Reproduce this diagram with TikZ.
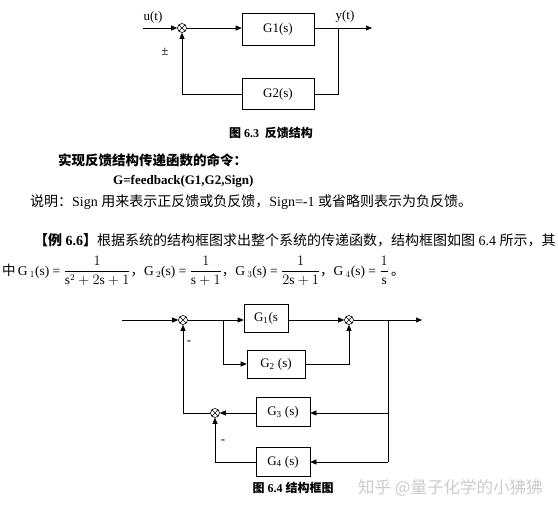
\documentclass[tikz,border=0pt]{standalone}
\usepackage{fontspec}
\usepackage{amsmath}
\setmainfont{Liberation Serif}
\newfontfamily\cjk{Noto Sans CJK SC}
\usetikzlibrary{arrows.meta,calc}
\begin{document}
\begin{tikzpicture}[x=1pt,y=-1pt,
  line/.style={line width=0.6pt},
  arr/.style={line width=0.6pt,-{Triangle[length=6pt,width=5pt]}},
  sumj/.style={circle,draw,line width=0.6pt,minimum size=9pt,inner sep=0pt,
    path picture={\draw[line width=0.6pt] (path picture bounding box.north west)--(path picture bounding box.south east)
      (path picture bounding box.north east)--(path picture bounding box.south west);}},
  blk/.style={draw,line width=0.6pt,inner sep=0pt,font=\fontsize{13}{15}\selectfont},
  lbl/.style={inner sep=0pt,font=\fontsize{13}{15}\selectfont},
  txt/.style={inner sep=0pt,anchor=west,font=\fontsize{14}{16}\selectfont},
  captxt/.style={inner sep=0pt,font=\fontsize{12}{14}\selectfont\bfseries}]
\useasboundingbox[fill=white] (0,0) rectangle (558,512);
% ---------- figure 6.3 ----------
\node[sumj] (sA) at (182,28) {};
\node[blk,minimum width=72pt,minimum height=32pt] (G1) at (278,29) {G1(s)\hspace{16pt}};
\node[blk,minimum width=72pt,minimum height=31pt] (G2) at (278,94) {G2(s)\hspace{20pt}};
\coordinate (inA) at (143,28);
\coordinate (outA) at (372,28);
\coordinate (brA) at (338,28);
\draw[arr] (inA) -- (sA.west);
\draw[arr] (sA.east) -- (sA.east -| G1.west);
\draw[arr] (G1.east |- sA) -- (outA);
\draw[line] (brA) |- (G2.east);
\draw[arr] (G2.west) -| (sA.south);
\node[lbl] (u) at (153,17) {u(t)};
\node[lbl] (y) at (345,16) {y(t)};
\node[lbl] (pm) at (165,52) {±};
\node[captxt] (cap1) at (271,133) {{\cjk 图} 6.3\ \ {\cjk 反馈结构}};
% ---------- text ----------
\node[txt,font=\fontsize{13.5}{16}\selectfont\bfseries] (ttl) at (58,160) {\cjk 实现反馈结构传递函数的命令：};
\node[txt,font=\fontsize{13}{16}\selectfont\bfseries] (cmd) at (113,181) {G=feedback(G1,G2,Sign)};
\node[txt] (note) at (30,202) {{\cjk 说明：}Sign {\cjk 用来表示正反馈或负反馈，}Sign=-1 {\cjk 或省略则表示为负反馈。}};
\node[txt] (ex1) at (34,240) {{\bfseries\cjk 【例}\textbf{ 6.6}{\bfseries\cjk 】}{\cjk 根据系统的结构框图求出整个系统的传递函数，结构框图如图} 6.4 {\cjk 所示，其}};
\node[txt,font=\fontsize{13.5}{16}\selectfont] (ex2) at (2,271) {{\cjk 中}\,G\,$_{1}$(s) = $\dfrac{1}{\mathrm{s}^{2}+2\mathrm{s}+1}${\cjk ，}G\,$_{2}$(s) = $\dfrac{1}{\mathrm{s}+1}${\cjk ，}G\,$_{3}$(s) = $\dfrac{1}{2\mathrm{s}+1}${\cjk ，}G\,$_{4}$(s) = $\dfrac{1}{\mathrm{s}}$\,{\cjk 。}};
% ---------- figure 6.4 ----------
\node[sumj] (S1) at (183,320) {};
\node[sumj] (S2) at (349,320) {};
\node[sumj] (S3) at (215,413) {};
\node[blk,minimum width=44pt,minimum height=28pt] (B1) at (266,318) {G\textsubscript{1}(s};
\node[blk,minimum width=58pt,minimum height=28pt] (B2) at (276,364) {G\textsubscript{2} (s)\hspace{8pt}};
\node[blk,minimum width=54pt,minimum height=29pt] (B3) at (283,412) {G\textsubscript{3} (s)};
\node[blk,minimum width=54pt,minimum height=29pt] (B4) at (283,462) {G\textsubscript{4} (s)};
\coordinate (inB) at (122,320);
\coordinate (outB) at (422,320);
\coordinate (brB1) at (223,320);
\coordinate (brB2) at (388,320);
\coordinate (brB2b) at (388,462);
\draw[arr] (inB) -- (S1.west);
\draw[arr] (S1.east) -- (S1.east -| B1.west);
\draw[arr] (brB1) |- (B2.west);
\draw[arr] (B1.east |- S2) -- (S2.west);
\draw[arr] (B2.east) -| (S2.south);
\draw[arr] (S2.east) -- (outB);
\draw[line] (brB2) -- (brB2b);
\draw[arr] (brB2 |- S3) -- (S3 -| B3.east);
\draw[arr] (S3 -| B3.west) -- (S3.east);
\draw[arr] (brB2b) -- (B4.east);
\draw[arr] (B4.west) -| (S3.south);
\draw[arr] (S3.west) -| (S1.south);
\node[lbl] (m1) at (189,343) {-};
\node[lbl] (m2) at (223,442) {-};
\node[captxt] (cap2) at (293,488) {{\cjk 图} 6.4 {\cjk 结构框图}};
\node[txt,text=black!20,font=\fontsize{16.5}{19}\selectfont] (wm) at (358,488) {\cjk 知乎 @量子化学的小狒狒};
\end{tikzpicture}
\end{document}
